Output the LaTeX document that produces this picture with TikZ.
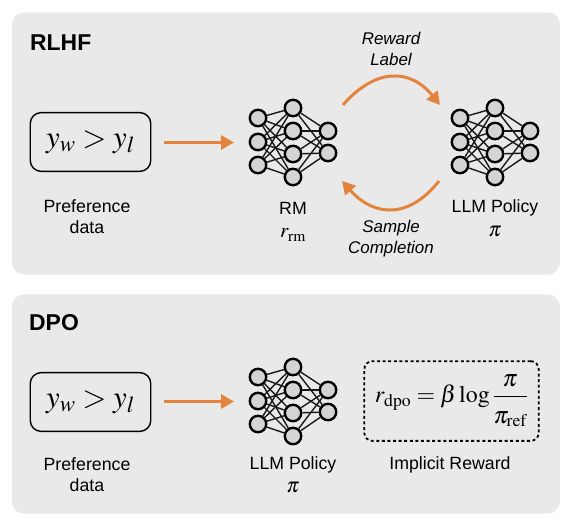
\documentclass[tikz,border=0pt]{standalone}
\usepackage{amsmath}
\usepackage{mathptmx}
\usepackage[no-math]{fontspec}
\setmainfont{Liberation Sans}
\usetikzlibrary{arrows.meta,positioning}
\definecolor{panelgray}{RGB}{233,233,233}
\definecolor{unitgray}{RGB}{212,212,212}
\definecolor{flowor}{RGB}{228,131,62}
\tikzset{
  panel/.style={fill=panelgray,rounded corners=12},
  unit/.style={circle,draw=black,line width=2.4pt,fill=unitgray,minimum size=16.5,inner sep=0pt},
  wire/.style={line width=1.4pt,black!90},
  flow/.style={-{Triangle[length=13,width=14]},line width=3pt,flowor},
  databox/.style={draw=black,line width=1.4pt,rounded corners=11,fill=panelgray,minimum width=121,minimum height=59,inner sep=0pt},
  caption/.style={align=center,inner sep=0pt,font=\fontsize{17.8}{21}\selectfont},
  tag/.style={inner sep=0pt,font=\fontsize{23}{26}\selectfont\bfseries},
}
\newcommand{\nnet}[3]{%
  \foreach \i/\yy in {1/118,2/142,3/165} \node[unit] (#1l\i) at (#2-35,#3+\yy-142) {};
  \foreach \i/\yy in {1/108,2/131,3/154,4/177} \node[unit] (#1m\i) at (#2,#3+\yy-142) {};
  \foreach \i/\yy in {1/131,2/153} \node[unit] (#1r\i) at (#2+35,#3+\yy-142) {};
  \foreach \a in {1,2,3} \foreach \b in {1,2,3,4} \draw[wire] (#1l\a) -- (#1m\b);
  \foreach \a in {1,2,3,4} \foreach \b in {1,2} \draw[wire] (#1m\a) -- (#1r\b);
}
\begin{document}
\begin{tikzpicture}[x=1bp,y=-1bp]
\useasboundingbox (0,0) rectangle (575,526);
\fill[white] (0,0) rectangle (575,526);
% panels
\node[panel,minimum width=550,minimum height=263,inner sep=0pt] (rlhf) at (286,143.5) {};
\node[panel,minimum width=550,minimum height=220,inner sep=0pt] (dpo) at (286,404) {};
\node[tag,anchor=west] (rlhftag) at (30,43) {RLHF};
\node[tag,anchor=west] (dpotag) at (29,323) {DPO};
% RLHF row
\node[databox] (datatop) at (90.5,142) {\fontsize{31}{34}\selectfont$y_w > y_l$};
\node[caption] (preftop) at (87,217) {Preference\\data};
\nnet{rm}{293}{142}
\nnet{pol}{495}{142}
\coordinate (fromtop) at (164,142.5);
\coordinate (intop) at (234,142.5);
\draw[flow] (fromtop) -- (intop);
\coordinate (a) at (343,105);
\coordinate (b) at (440,105);
\coordinate (c) at (439,181);
\coordinate (d) at (342,181);
\draw[flow] (a) .. controls (375,68) and (410,68) .. (b);
\draw[flow] (c) .. controls (410,218) and (375,218) .. (d);
\node[caption,font=\fontsize{17}{21}\selectfont\itshape] (rewardlab) at (391,49) {Reward\\Label};
\node[caption,font=\fontsize{17}{21}\selectfont\itshape] (samplelab) at (391,239) {Sample\\Completion};
\node[caption] (rmlab) at (293,208) {RM};
\node[caption] (rmsym) at (293,235) {\fontsize{21}{24}\selectfont$r_{\mathrm{rm}}$};
\node[caption] (pollab) at (495,208) {LLM Policy};
\node[caption] (polsym) at (495,232) {\fontsize{21}{24}\selectfont$\pi$};
% DPO row
\node[databox] (databot) at (90.5,402) {\fontsize{31}{34}\selectfont$y_w > y_l$};
\node[caption] (prefbot) at (87,475) {Preference\\data};
\nnet{dp}{293}{401}
\coordinate (frombot) at (164,401.5);
\coordinate (inbot) at (234,401.5);
\draw[flow] (frombot) -- (inbot);
\node[caption] (dplab) at (293,465) {LLM Policy};
\node[caption] (dpsym) at (293,488) {\fontsize{21}{24}\selectfont$\pi$};
\node[draw=black,line width=1.8pt,dash pattern=on 3pt off 2.6pt,rounded corners=8,minimum width=175,minimum height=80,inner sep=0pt] (implicit) at (451.5,401)
  {\fontsize{24}{28}\selectfont$r_{\mathrm{dpo}} = \beta\log\dfrac{\pi}{\rule{0pt}{0.95em}\pi_{\mathrm{ref}}}$};
\node[caption] (implab) at (450,465) {Implicit Reward};
\end{tikzpicture}
\end{document}
